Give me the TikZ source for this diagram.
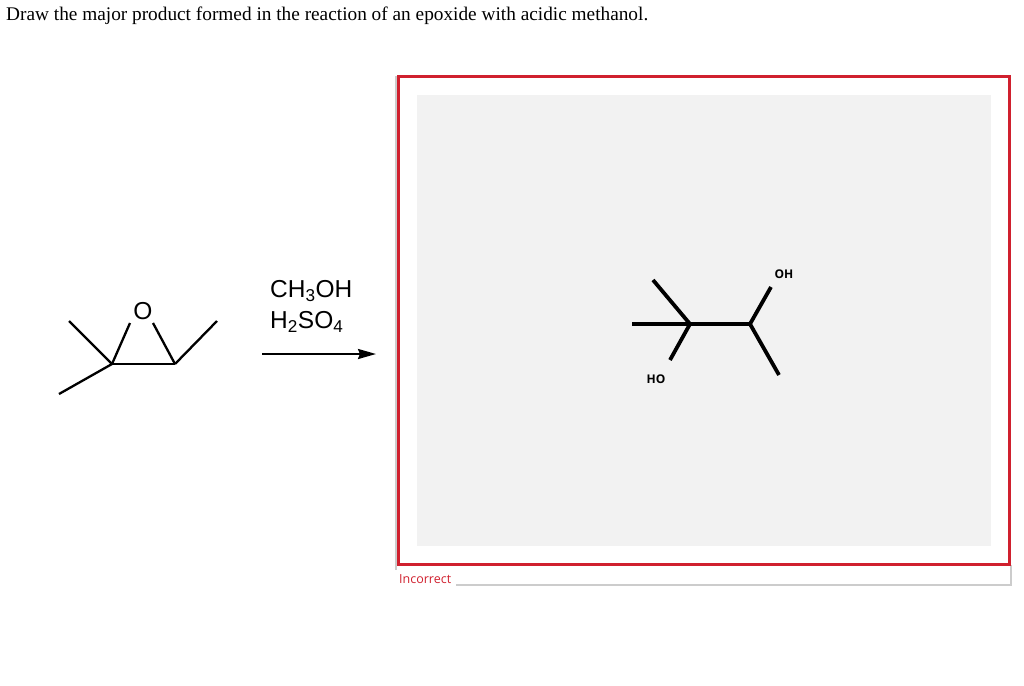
\documentclass[tikz,border=0pt]{standalone}
\usetikzlibrary{arrows.meta}
\usepackage{fontspec}
\setmainfont{Liberation Serif}
\newfontfamily\arial{Liberation Sans}
\newfontfamily\opensans{Open Sans}
\definecolor{boxred}{HTML}{D0202E}
\definecolor{panel}{HTML}{F2F2F2}
\definecolor{greyline}{HTML}{CCCCCC}
\begin{document}
\begin{tikzpicture}[x=1pt,y=-1pt,
  bond/.style={line width=2.3pt},
  pbond/.style={line width=3.8pt},
  lbl/.style={font=\opensans\bfseries\fontsize{12}{13}\selectfont, inner sep=0pt},
  reag/.style={font=\arial\fontsize{24.5}{28}\selectfont, inner sep=0pt, anchor=west}]
\useasboundingbox (0,0) rectangle (1024,685);
\node[anchor=west, inner sep=0pt, font=\fontsize{19.3}{22}\selectfont] (title) at (6,16) {Draw the major product formed in the reaction of an epoxide with acidic methanol.};
% epoxide
\coordinate (c1) at (112,364); \coordinate (c2) at (175,364);
\node[font=\arial\fontsize{24.5}{28}\selectfont, inner sep=0pt] (o) at (143,311) {O};
\coordinate (m1) at (69,321); \coordinate (m2) at (59,394); \coordinate (m3) at (217,321);
\draw[bond] (c1) -- (c2);
\draw[bond] (c1) -- (130,323);
\draw[bond] (153,323) -- (c2);
\draw[bond] (m1) -- (c1) -- (m2);
\draw[bond] (c2) -- (m3);
% reagents
\node[reag] (r1) at (270,291) {CH\textsubscript{3}OH};
\node[reag] (r2) at (270,322) {H\textsubscript{2}SO\textsubscript{4}};
\coordinate (a1) at (262,354); \coordinate (a2) at (376,354);
\draw[line width=2.3pt,-{Stealth[length=18pt,width=10pt,inset=2pt]}] (a1) -- (a2);
% box
\draw[greyline, line width=2.5pt] (396,76) -- (396,570);
\draw[greyline, line width=2.5pt] (1011,565) -- (1011,585) -- (456,585);
\draw[boxred, line width=3pt] (398,76) rectangle (1009,564);
\fill[panel] (417,95) rectangle (991,546);
\node[font=\opensans\fontsize{12.5}{14}\selectfont, text=boxred, inner sep=0pt, anchor=west] (inc) at (399,579) {Incorrect};
% product
\coordinate (p2) at (690,324); \coordinate (p3) at (750,324);
\coordinate (q1) at (632,324); \coordinate (q2) at (653,280);
\coordinate (q5) at (779,375);
\node[lbl] (oh) at (784,274) {OH};
\node[lbl] (ho) at (656,379) {HO};
\draw[pbond] (q1) -- (p2) -- (p3) -- (q5);
\draw[pbond] (q2) -- (p2) -- (670,360);
\draw[pbond] (p3) -- (771,287);
\end{tikzpicture}
\end{document}
